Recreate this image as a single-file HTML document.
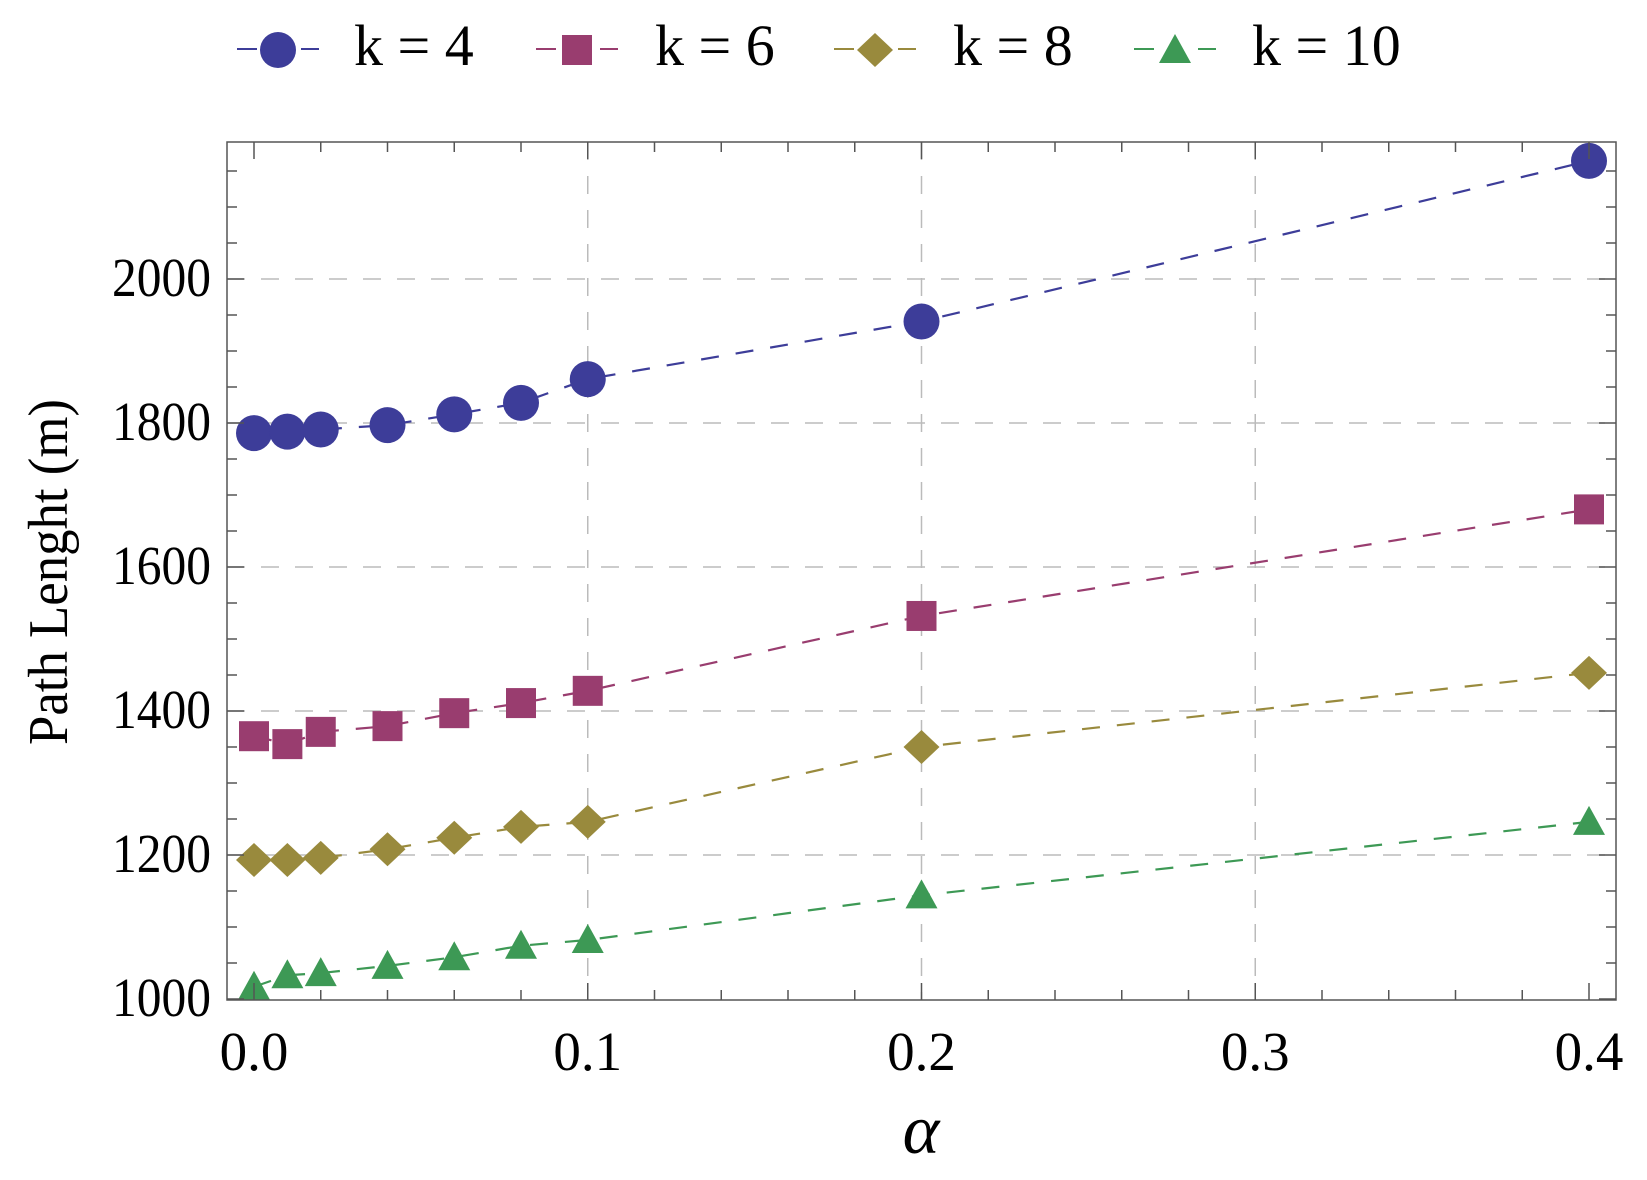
<!DOCTYPE html>
<html><head><meta charset="utf-8"><style>html,body{margin:0;padding:0;background:#fff}svg{display:block}</style></head>
<body>
<svg id="s" width="1647" height="1180" viewBox="0 0 1647 1180" xmlns="http://www.w3.org/2000/svg" font-family="Liberation Serif, serif">
<rect width="1647" height="1180" fill="#fff"/>
<g id="grid" stroke="#bbb" stroke-width="1.5" stroke-dasharray="18,16" fill="none"></g>
<g id="series"></g>
<g id="axes" stroke="#555" stroke-width="1.5" fill="none"></g>
<g id="labels" font-size="55" fill="#000"></g>
<text transform="translate(67,572) rotate(-90)" text-anchor="middle" font-size="56" textLength="346" lengthAdjust="spacingAndGlyphs">Path Lenght (m)</text>
<text x="921" y="1153" text-anchor="middle" font-size="70" font-style="italic">α</text>
<g id="legend" font-size="58"></g>
</svg>
<script>
const NS="http://www.w3.org/2000/svg";
const X=a=>254+a*3337.5, Y=v=>999-(v-1000)*0.72;
const L=227,R=1616,T=142,B=1000;
function el(p,t,a){const e=document.createElementNS(NS,t);for(const k in a)e.setAttribute(k,a[k]);document.getElementById(p).appendChild(e);return e;}
[0.1,0.2,0.3].forEach(a=>el('grid','line',{x1:X(a),x2:X(a),y1:T,y2:B}));
[1200,1400,1600,1800,2000].forEach(v=>el('grid','line',{x1:L,x2:R,y1:Y(v),y2:Y(v)}));
const xs=[0,0.01,0.02,0.04,0.06,0.08,0.1,0.2,0.4];
const S=[
 {c:'#3d3d99',m:'c',v:[1786,1788,1791,1797,1812,1828,1861,1941,2164]},
 {c:'#993d6f',m:'s',v:[1365,1354,1371,1379,1397,1411,1428,1532,1680]},
 {c:'#998a3d',m:'d',v:[1193,1193,1196,1208,1224,1239,1246,1350,1453]},
 {c:'#3d9955',m:'t',v:[1017,1033,1036,1046,1058,1074,1082,1144,1246]}];
function marker(g,m,x,y,c){
 if(m=='c')el(g,'circle',{cx:x,cy:y,r:18,fill:c});
 else if(m=='s')el(g,'rect',{x:x-15,y:y-15,width:30,height:30,fill:c});
 else if(m=='d')el(g,'polygon',{points:`${x-18},${y} ${x},${y-17} ${x+18},${y} ${x},${y+17}`,fill:c});
 else el(g,'polygon',{points:`${x},${y-16} ${x+16},${y+13} ${x-16},${y+13}`,fill:c});
}
S.forEach(s=>{
 el('series','polyline',{points:xs.map((a,i)=>X(a)+','+Y(s.v[i])).join(' '),fill:'none',stroke:s.c,'stroke-width':2.2,'stroke-dasharray':'18,17'});
 xs.forEach((a,i)=>marker('series',s.m,X(a),Y(s.v[i]),s.c));
});
el('axes','rect',{x:L,y:T,width:R-L,height:B-T});
for(let i=0;i<=20;i++){const a=i*0.02,x=X(a);const major=i%5==0;const len=major?17:10;
 el('axes','line',{x1:x,x2:x,y1:B,y2:B-len});el('axes','line',{x1:x,x2:x,y1:T,y2:T+len});}
for(let v=1000;v<=2150;v+=50){const y=Y(v);const major=v%200==0;const len=major?17:10;
 el('axes','line',{x1:L,x2:L+len,y1:y,y2:y});el('axes','line',{x1:R,x2:R-len,y1:y,y2:y});}
[1000,1200,1400,1600,1800,2000].forEach(v=>{const t=el('labels','text',{x:211,y:Y(v)+17,'text-anchor':'end',textLength:99,lengthAdjust:'spacingAndGlyphs'});t.textContent=v;});
['0.0','0.1','0.2','0.3','0.4'].forEach((s,i)=>{const t=el('labels','text',{x:X(i*0.1),y:1070,'text-anchor':'middle'});t.textContent=s;});
const lx=[278,577,875,1175],tx=[354,655,953,1252],names=['k = 4','k = 6','k = 8','k = 10'];
S.forEach((s,i)=>{
 el('legend','line',{x1:lx[i]-41,x2:lx[i]+41,y1:49,y2:49,stroke:s.c,'stroke-width':2,'stroke-dasharray':'20,44'});
 marker('legend',s.m,lx[i],50,s.c);
 const t=el('legend','text',{x:tx[i],y:65});t.textContent=names[i];
});
</script>
</body></html>
